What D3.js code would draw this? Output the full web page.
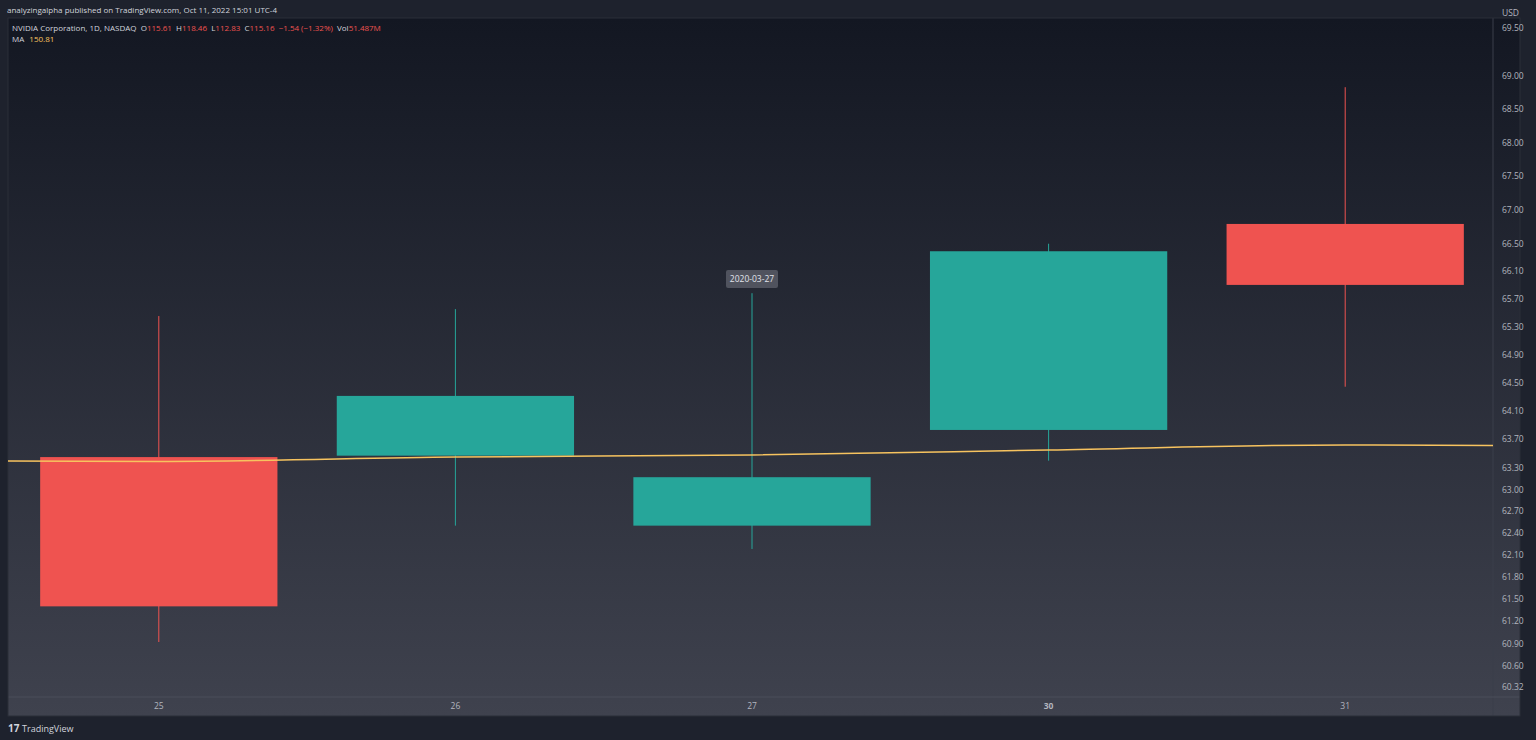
<!DOCTYPE html>
<html><head><meta charset="utf-8">
<script src="https://cdn.jsdelivr.net/npm/d3@7"></script>
<style>
body{margin:0;background:#1e222d;font-family:"Open Sans",sans-serif;}
svg text{font-family:"Open Sans",sans-serif;}
</style></head>
<body><svg id="c" width="1536" height="740"></svg>
<script>
// candle data (NVDA, late March 2020)
const days = ['25', '26', '27', '30', '31'];
const opens = [63.45, 63.47, 62.50, 63.83, 66.79];
const highs = [65.45, 65.55, 65.78, 66.50, 68.83];
const lows = [60.92, 62.50, 62.18, 63.40, 64.44];
const closes = [61.40, 64.31, 63.17, 66.39, 65.90];
// moving average, including one day either side (clipped)
const maIdx = [-1, 0, 1, 2, 3, 4, 5];
const maVals = [63.40, 63.39, 63.45, 63.48, 63.55, 63.62, 63.60];
const yTicks = [69.5, 69.0, 68.5, 68.0, 67.5, 67.0, 66.5, 66.1, 65.7, 65.3, 64.9, 64.5, 64.1, 63.7, 63.3, 63.0, 62.7, 62.4, 62.1, 61.8, 61.5, 61.2, 60.9, 60.6, 60.32];

const svg = d3.select('#c');
const pLeft = 8, pRight = 1493, pTop = 18, pBottom = 697;

const defs = svg.append('defs');
const grad = defs.append('linearGradient').attr('id', 'bg').attr('x1', 0).attr('y1', 0).attr('x2', 0).attr('y2', 1);
grad.append('stop').attr('offset', 0).attr('stop-color', '#131722');
grad.append('stop').attr('offset', 1).attr('stop-color', '#3f424e');
defs.append('clipPath').attr('id', 'clip').append('rect')
  .attr('x', pLeft).attr('y', pTop).attr('width', pRight - pLeft).attr('height', pBottom - pTop);

svg.append('rect').attr('width', 1536).attr('height', 740).attr('fill', '#1e222d');
svg.append('rect').attr('x', pLeft).attr('y', pTop).attr('width', 1520 - pLeft).attr('height', 716 - pTop).attr('fill', 'url(#bg)');
svg.append('line').attr('x1', pRight).attr('x2', pRight).attr('y1', pTop).attr('y2', 716).attr('stroke', '#3a3e4a');
svg.append('line').attr('x1', pLeft).attr('x2', 1520).attr('y1', pBottom).attr('y2', pBottom).attr('stroke', '#4a4e5a');
svg.append('rect').attr('x', pLeft).attr('y', pTop).attr('width', 1520 - pLeft).attr('height', 716 - pTop)
  .attr('fill', 'none').attr('stroke', '#2a2e39');

const x = d3.scaleBand().domain(days).range([10.5, 1493.5]).paddingInner(0.2).paddingOuter(0.1);
const y = d3.scaleLog().domain([60.32, 69.0]).range([687, 76]);
const xi = i => x(days[0]) + x.bandwidth() / 2 + i * x.step();

// right axis
const yAxis = svg.append('g').attr('transform', `translate(${pRight},0)`)
  .call(d3.axisRight(y).tickValues(yTicks).tickFormat(d3.format('.2f')).tickSize(0).tickPadding(9));
yAxis.select('.domain').remove();
yAxis.selectAll('text').attr('fill', '#b2b5be').attr('font-size', 8.5)
  .attr('transform', d => d === 69.5 ? `translate(0,${28 - y(69.5)})` : null);
svg.append('text').attr('x', 1502).attr('y', 16).attr('fill', '#b2b5be').attr('font-size', 8.5).text('USD');

// bottom axis
const xAxis = svg.append('g').attr('transform', `translate(0,${pBottom})`)
  .call(d3.axisBottom(x).tickSize(0).tickPadding(6));
xAxis.select('.domain').remove();
xAxis.selectAll('text').attr('fill', '#b2b5be').attr('font-size', 8.5)
  .attr('font-weight', d => d === '30' ? 'bold' : null);

const plot = svg.append('g').attr('clip-path', 'url(#clip)');
const col = i => closes[i] >= opens[i] ? '#26a69a' : '#ef5350';

plot.selectAll('line.wick').data(days).join('line')
  .attr('x1', d => x(d) + x.bandwidth() / 2).attr('x2', d => x(d) + x.bandwidth() / 2)
  .attr('y1', (d, i) => y(highs[i])).attr('y2', (d, i) => y(lows[i]))
  .attr('stroke', (d, i) => col(i)).attr('stroke-width', 1);
plot.selectAll('rect.body').data(days).join('rect')
  .attr('x', d => x(d)).attr('width', x.bandwidth())
  .attr('y', (d, i) => y(Math.max(opens[i], closes[i])))
  .attr('height', (d, i) => Math.abs(y(opens[i]) - y(closes[i])))
  .attr('fill', (d, i) => col(i));

plot.append('path').datum(maIdx)
  .attr('d', d3.line().x(i => xi(i)).y((i, k) => y(maVals[k])).curve(d3.curveMonotoneX))
  .attr('fill', 'none').attr('stroke', '#f7c35f').attr('stroke-width', 1.5);

// date tooltip
const tx = x('27') + x.bandwidth() / 2;
svg.append('rect').attr('x', tx - 26).attr('y', 270).attr('width', 52).attr('height', 18).attr('rx', 2).attr('fill', '#50535e');
svg.append('text').attr('x', tx).attr('y', 282).attr('text-anchor', 'middle').attr('fill', '#e0e3eb').attr('font-size', 8.5).text('2020-03-27');

// header
svg.append('text').attr('x', 7).attr('y', 13).attr('fill', '#d1d4dc').attr('font-size', 8)
  .text('analyzingalpha published on TradingView.com, Oct 11, 2022 15:01 UTC-4');
const h = svg.append('text').attr('x', 12).attr('y', 31).attr('font-size', 8).attr('fill', '#d1d4dc')
  .attr('xml:space', 'preserve');
[['NVIDIA Corporation, 1D, NASDAQ  O', '#d1d4dc'], ['115.61', '#ef5350'], ['  H', '#d1d4dc'], ['118.46', '#ef5350'],
 ['  L', '#d1d4dc'], ['112.83', '#ef5350'], ['  C', '#d1d4dc'], ['115.16  −1.54 (−1.32%)', '#ef5350'],
 ['  Vol', '#d1d4dc'], ['51.487M', '#ef5350']].forEach(([t, c]) => h.append('tspan').attr('fill', c).text(t));
const m = svg.append('text').attr('x', 12).attr('y', 42).attr('font-size', 8);
m.append('tspan').attr('fill', '#d1d4dc').text('MA ');
m.append('tspan').attr('fill', '#f7c35f').attr('dx', 3).text('150.81');

// footer
svg.append('text').attr('x', 8).attr('y', 732).attr('fill', '#d1d4dc').attr('font-size', 10).attr('font-weight', 'bold').text('17');
svg.append('text').attr('x', 22).attr('y', 732).attr('fill', '#d1d4dc').attr('font-size', 9).text('TradingView');
</script></body></html>
